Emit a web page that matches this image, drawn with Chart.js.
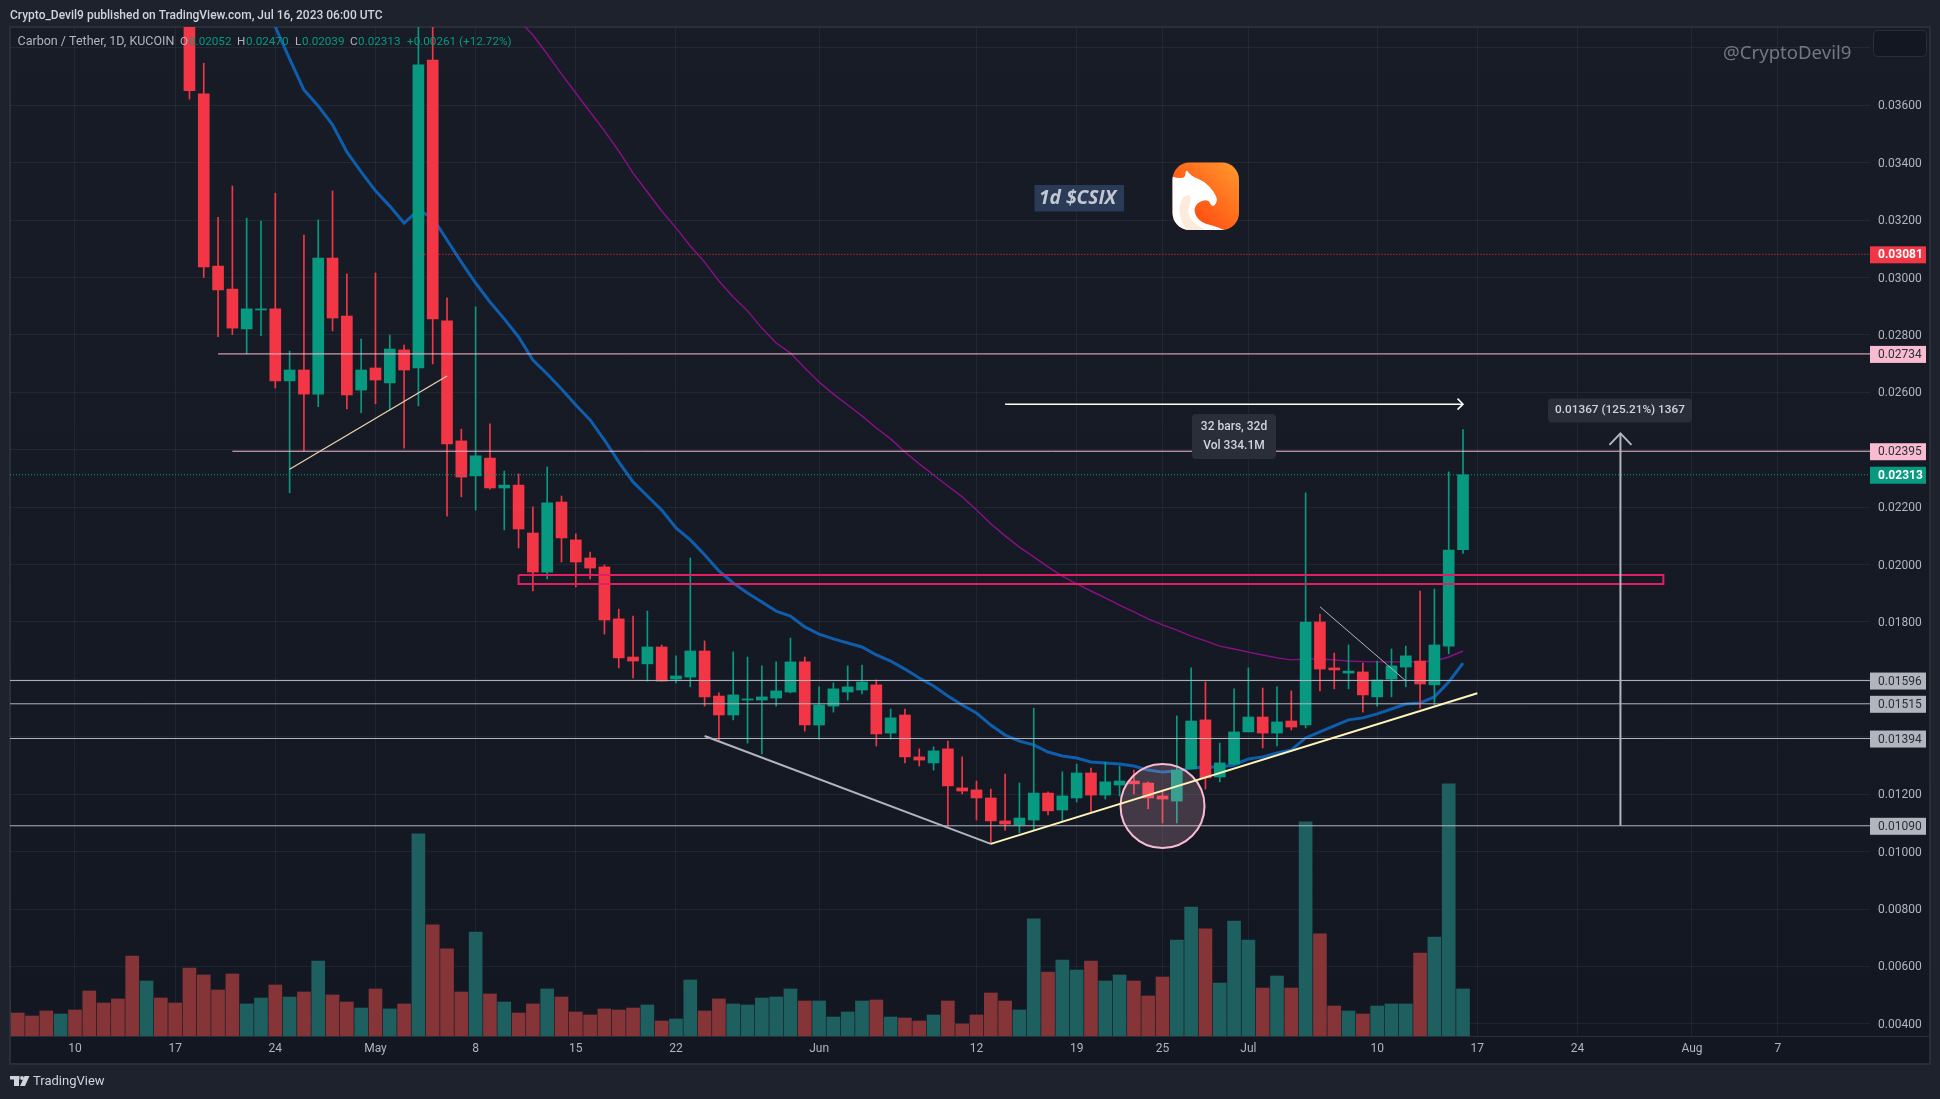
<!DOCTYPE html>
<html>
<head>
<meta charset="utf-8">
<title>CSIX / USDT</title>
<script src="https://cdn.jsdelivr.net/npm/chart.js@4"></script>
<style>
html, body { margin: 0; padding: 0; background: #1e222d; }
canvas { display: block; }
</style>
</head>
<body>
<canvas id="chart" width="1940" height="1099"></canvas>
<script>
// days are counted from Apr 10 2023 = 0
var firstCandleDay = 8;   // Apr 18, older candles sit above the visible range
var firstVolumeDay = -5;  // Apr 5
var firstBlueDay = 13;
var firstPurpleDay = 30;

var opens = [
  .04120,.03640,.03040,.02960,.02821,.02887,.02891,.02640,.02678,.02594,
  .03068,.02866,.02608,.02685,.02633,.02748,.02685,.03758,.02849,.02431,
  .02309,.02371,.02267,.02277,.02110,.01974,.02218,.02086,.02023,.01992,
  .01811,.01678,.01654,.01713,.01601,.01608,.01699,.01542,.01476,.01528,
  .01528,.01535,.01556,.01661,.01441,.01507,.01556,.01563,.01581,.01413,
  .01476,.01330,.01309,.01358,.01222,.01215,.01187,.01107,.01093,.01110,
  .01204,.01145,.01187,.01274,.01197,.01232,.01246,.01239,.01194,.01176,
  .01288,.01459,.01260,.01305,.01417,.01469,.01413,.01455,.01441,.01800,
  .01640,.01622,.01626,.01539,.01601,.01643,.01664,.01581,.01716,.02052
];
var highs = [
  .04300,.03747,.03210,.03319,.03207,.03197,.03294,.02744,.03148,.03201,
  .03302,.03013,.02786,.03016,.02800,.02765,.04200,.04100,.02929,.02472,
  .02898,.02490,.02326,.02316,.02201,.02340,.02239,.02107,.02044,.01999,
  .01845,.01821,.01838,.01720,.01682,.02023,.01734,.01553,.01696,.01678,
  .01647,.01661,.01744,.01678,.01574,.01588,.01647,.01650,.01598,.01497,
  .01497,.01358,.01365,.01385,.01330,.01246,.01218,.01270,.01239,.01500,
  .01208,.01278,.01305,.01291,.01312,.01298,.01284,.01243,.01215,.01473,
  .01640,.01591,.01378,.01567,.01640,.01570,.01574,.01560,.02250,.01828,
  .01692,.01720,.01657,.01664,.01706,.01716,.01908,.01915,.02323,.02470
];
var lows = [
  .03622,.03000,.02794,.02801,.02734,.02798,.02615,.02250,.02396,.02550,
  .02814,.02542,.02529,.02560,.02539,.02406,.02553,.02699,.02169,.02236,
  .02190,.02263,.02121,.02058,.01908,.01950,.02009,.01922,.01950,.01758,
  .01640,.01605,.01594,.01594,.01588,.01574,.01507,.01389,.01459,.01378,
  .01340,.01507,.01553,.01420,.01392,.01486,.01528,.01549,.01368,.01392,
  .01309,.01298,.01284,.01089,.01201,.01110,.01027,.01075,.01065,.01075,
  .01128,.01107,.01173,.01138,.01183,.01194,.01201,.01149,.01100,.01100,
  .01288,.01218,.01243,.01305,.01417,.01361,.01368,.01424,.01431,.01560,
  .01567,.01567,.01486,.01507,.01539,.01574,.01500,.01511,.01689,.02039
];
var closes = [
  .03651,.03037,.02957,.02824,.02891,.02891,.02640,.02678,.02594,.03068,
  .02859,.02591,.02678,.02643,.02751,.02678,.03741,.02856,.02420,.02305,
  .02379,.02267,.02277,.02124,.01974,.02215,.02093,.02009,.01988,.01807,
  .01675,.01664,.01713,.01594,.01612,.01699,.01539,.01476,.01546,.01532,
  .01539,.01560,.01661,.01441,.01511,.01567,.01574,.01591,.01410,.01466,
  .01330,.01319,.01351,.01229,.01211,.01187,.01107,.01096,.01117,.01204,
  .01142,.01194,.01274,.01197,.01243,.01246,.01236,.01187,.01183,.01284,
  .01455,.01257,.01309,.01417,.01469,.01413,.01452,.01434,.01800,.01636,
  .01633,.01629,.01546,.01598,.01647,.01682,.01584,.01720,.02051,.02313
];

// volume in millions, u = up day, d = down day
var volumes = [
  4.69,3.17,2.76,3.45,3.04,3.59,6.21,4.55,5.11,11.04,
  7.59,5.24,4.55,9.38,8.42,6.35,8.56,4.42,5.24,7.04,
  5.38,6.07,10.35,5.66,4.69,3.86,6.49,3.73,4.42,27.88,
  15.32,12.01,6.07,14.35,5.80,4.69,3.17,4.42,6.49,5.38,
  3.31,2.90,3.73,3.59,3.86,4.28,2.07,2.35,7.73,3.45,
  5.11,4.42,4.28,5.24,5.38,6.49,4.83,4.83,2.62,3.31,
  4.83,4.97,2.62,2.48,2.07,2.90,4.83,1.66,2.90,5.93,
  4.83,3.59,16.15,8.83,10.49,9.11,10.35,7.59,8.42,7.59,
  5.52,8.14,13.25,17.80,14.77,7.31,15.87,13.25,6.62,8.28,
  6.62,29.53,14.08,4.14,3.45,3.04,4.14,4.42,4.42,11.45,
  13.66,34.78,6.49
];
var volumeDirs = [
  'u','d','d','d','u','d','d','d','d','d',
  'u','d','d','d','d','d','d','u','u','d',
  'u','d','u','d','d','u','d','u','d','u',
  'd','d','d','u','d','u','d','d','u','d',
  'd','d','d','d','d','u','d','u','u','d',
  'd','u','u','u','u','u','d','u','u','u',
  'u','d','u','d','d','u','d','d','d','d',
  'd','u','u','d','u','u','d','u','u','d',
  'd','d','u','u','d','u','u','u','d','u',
  'd','u','d','d','u','d','u','u','u','d',
  'u','u','u'
];

var bluePrices = [
  .04037,.03873,.03762,.03654,.03598,.03532,.03438,.03368,.03302,.03249,
  .03190,.03235,.03208,.03131,.03054,.02981,.02915,.02856,.02793,.02713,
  .02664,.02612,.02556,.02504,.02434,.02358,.02288,.02239,.02190,.02128,
  .02086,.02034,.01978,.01936,.01901,.01870,.01838,.01821,.01783,.01758,
  .01741,.01727,.01713,.01685,.01664,.01636,.01605,.01577,.01542,.01511,
  .01483,.01441,.01406,.01385,.01372,.01347,.01333,.01326,.01312,.01309,
  .01305,.01298,.01284,.01277,.01281,.01291,.01295,.01295,.01302,.01323,
  .01330,.01344,.01354,.01396,.01417,.01438,.01459,.01466,.01480,.01497,
  .01514,.01518,.01539,.01591,.01657
];
var purplePrices = [
  .03985,.03897,.03845,.03779,.03709,.03643,.03577,.03511,.03441,.03364,
  .03298,.03232,.03173,.03110,.03054,.02988,.02932,.02884,.02824,.02772,
  .02737,.02685,.02636,.02594,.02556,.02518,.02476,.02438,.02392,.02351,
  .02312,.02274,.02236,.02190,.02142,.02100,.02061,.02027,.01992,.01960,
  .01933,.01908,.01884,.01859,.01835,.01811,.01790,.01772,.01751,.01734,
  .01716,.01706,.01695,.01685,.01675,.01668,.01671,.01671,.01668,.01664,
  .01662,.01661,.01661,.01661,.01661,.01664,.01678,.01699
];

var tickDays = [0,7,14,21,28,35,42,52,63,70,76,82,91,98,105,113,119];
var tickLabels = ["10","17","24","May","8","15","22","Jun","12","19","25","Jul","10","17","24","Aug","7"];
var priceTicks = [.004,.006,.008,.010,.012,.014,.016,.018,.020,.022,.024,.026,.028,.030,.032,.034,.036,.038];
var hiddenPriceTicks = [.014,.016,.024,.038];

var dayMin = -4.54, dayMax = 125.44;
var priceMin = .003576, priceMax = .03873;
var volumeMax = 139.2;

var levelPink = [.02734,.02395];
var levelPinkStart = [10,11];
var levelGrey = [.01596,.01515,.01394,.01090];
var highLevel = .03081, highLevelStart = 24;
var lastPrice = .02313;

var tanDays = [15,26], tanPrices = [.02332,.02657];
var greyDays = [44,64], greyPrices = [.01403,.01027];
var yellowDays = [64,98], yellowPrices = [.01027,.01552];
var shortDays = [87,93], shortPrices = [.01853,.01595];
var zoneDays = [31,111,111,31,31], zonePrices = [.01964,.01964,.01932,.01932,.01964];
var rangeDays = [65,97], rangePrice = .02559;
var riseDay = 108, risePrices = [.01090,.02457];
var circleDay = 76, circlePrice = .01159;

function candleColor(i) { return closes[i] >= opens[i] ? '#089981' : '#f23645'; }

function line(days, prices, color, width, order, dash) {
  return {
    type: 'line',
    data: days.map(function(d, i) { return { x: d, y: prices[i] }; }),
    borderColor: color,
    borderWidth: width,
    borderDash: dash || [],
    pointRadius: 0,
    tension: 0,
    yAxisID: 'y',
    order: order
  };
}

function dayList(first, values) {
  return values.map(function(v, i) { return first + i; });
}

var datasets = [];

datasets.push({
  type: 'bar',
  data: volumes.map(function(v, i) { return { x: firstVolumeDay + i, y: v }; }),
  backgroundColor: volumeDirs.map(function(d) { return d === 'u' ? '#1e6060' : '#853538'; }),
  barThickness: 13,
  yAxisID: 'yVol',
  order: 60
});
datasets.push(line(dayList(firstPurpleDay, purplePrices), purplePrices, '#8a0f87', 1.4, 50));
datasets.push(line(dayList(firstBlueDay, bluePrices), bluePrices, '#0f5ead', 3, 49));
datasets.push({
  type: 'bar',
  data: highs.map(function(v, i) { return { x: firstCandleDay + i, y: [lows[i], highs[i]] }; }),
  backgroundColor: opens.map(function(v, i) { return candleColor(i); }),
  barThickness: 1,
  yAxisID: 'y',
  order: 40
});
datasets.push({
  type: 'bar',
  data: opens.map(function(v, i) { return { x: firstCandleDay + i, y: [opens[i], closes[i]] }; }),
  backgroundColor: opens.map(function(v, i) { return candleColor(i); }),
  barThickness: 11,
  minBarLength: 1,
  yAxisID: 'y',
  order: 39
});

// price level drawings
levelGrey.forEach(function(p) {
  datasets.push(line([dayMin, dayMax], [p, p], '#b2b5be', 1, 20));
});
levelPink.forEach(function(p, i) {
  datasets.push(line([levelPinkStart[i], dayMax], [p, p], '#f8bbd0', 1, 20));
});
datasets.push(line([dayMin, dayMax], [lastPrice, lastPrice], '#089981', 1, 21, [1, 2]));
datasets.push(line([highLevelStart, dayMax], [highLevel, highLevel], '#f23645', 1, 21, [1, 2]));

// hand drawn lines
datasets.push(line(zoneDays, zonePrices, '#e01e63', 2, 19));
datasets.push(line(tanDays, tanPrices, '#e8d3b0', 1.3, 18));
datasets.push(line(shortDays, shortPrices, '#b2b5be', 1, 18));
datasets.push(line(greyDays, greyPrices, '#b2b5be', 2, 18));
datasets.push({
  type: 'line',
  data: [{ x: circleDay, y: circlePrice }],
  showLine: false,
  pointRadius: 42,
  pointHoverRadius: 42,
  pointBackgroundColor: 'rgba(248,187,208,0.2)',
  pointBorderColor: '#f8bbd0',
  pointBorderWidth: 2,
  yAxisID: 'y',
  order: 17
});
datasets.push(line(yellowDays, yellowPrices, '#fff5b8', 2, 16));
datasets.push(line(rangeDays, [rangePrice, rangePrice], '#ffffff', 1.5, 15));
datasets.push(line([riseDay, riseDay], risePrices, '#b2b5be', 2, 15));

var font = 'Roboto, sans-serif';

function roundBox(ctx, x, y, w, h, r, fill, stroke) {
  ctx.beginPath();
  ctx.roundRect(x, y, w, h, r);
  if (fill) { ctx.fillStyle = fill; ctx.fill(); }
  if (stroke) { ctx.strokeStyle = stroke; ctx.lineWidth = 1; ctx.stroke(); }
}

function text(ctx, str, x, y, color, fontStr, align) {
  ctx.fillStyle = color;
  ctx.font = fontStr;
  ctx.textAlign = align || 'left';
  ctx.textBaseline = 'middle';
  ctx.fillText(str, x, y);
}

var framePlugin = {
  id: 'frame',
  beforeDraw: function(chart) {
    var ctx = chart.ctx;
    ctx.save();
    ctx.fillStyle = '#1e222d';
    ctx.fillRect(0, 0, 1940, 1099);
    var g = ctx.createLinearGradient(0, 27, 0, 1064);
    g.addColorStop(0, '#181c27');
    g.addColorStop(1, '#131722');
    ctx.fillStyle = g;
    ctx.fillRect(10, 27, 1920, 1037);
    ctx.strokeStyle = '#2a2e39';
    ctx.lineWidth = 2;
    ctx.strokeRect(10, 27, 1920, 1037);
    ctx.lineWidth = 1;
    ctx.beginPath();
    ctx.moveTo(10, 1036.5);
    ctx.lineTo(1930, 1036.5);
    ctx.stroke();
    ctx.restore();
  }
};

function chevron(ctx, points, color, width) {
  ctx.strokeStyle = color;
  ctx.lineWidth = width;
  ctx.beginPath();
  ctx.moveTo(points[0][0], points[0][1]);
  ctx.lineTo(points[1][0], points[1][1]);
  ctx.lineTo(points[2][0], points[2][1]);
  ctx.stroke();
}

// rounded outline through the midpoints of a rough polygon
function smoothShape(ctx, pts, color) {
  var sx = function(v) { return 990 + v / 3; }, sy = function(v) { return 140 + v / 3; };
  ctx.fillStyle = color;
  ctx.beginPath();
  pts.forEach(function(p, i) {
    var next = pts[(i + 1) % pts.length];
    var mx = sx((p[0] + next[0]) / 2), my = sy((p[1] + next[1]) / 2);
    if (i === 0) ctx.moveTo(mx, my);
    else ctx.quadraticCurveTo(sx(p[0]), sy(p[1]), mx, my);
  });
  ctx.quadraticCurveTo(sx(pts[0][0]), sy(pts[0][1]), sx((pts[0][0] + pts[1][0]) / 2), sy((pts[0][1] + pts[1][1]) / 2));
  ctx.closePath();
  ctx.fill();
}

function drawLogo(ctx) {
  ctx.save();
  ctx.beginPath();
  ctx.roundRect(1172.5, 162.5, 66.5, 67.5, 17);
  ctx.clip();
  var g = ctx.createLinearGradient(1172, 230, 1239, 163);
  g.addColorStop(0, '#ff3508');
  g.addColorStop(1, '#ff9a2e');
  ctx.fillStyle = g;
  ctx.fillRect(1172, 162, 68, 69);
  smoothShape(ctx, [[500,95],[585,122],[587,85],[603,108],[645,125],[672,155],[684,182],[668,204],[655,178],[622,186],[610,215],[632,248],[690,262],[760,300],[500,300]], '#ffffff');
  smoothShape(ctx, [[572,178],[598,160],[604,182],[590,215],[610,250],[660,278],[590,278],[566,225]], '#fdeadb');
  ctx.restore();
}

function drawTvMark(ctx) {
  ctx.fillStyle = '#d1d4dc';
  ctx.fillRect(10, 1076, 9.5, 3.5);
  ctx.fillRect(14, 1076, 5, 10);
  ctx.beginPath();
  ctx.arc(22, 1078, 1.9, 0, Math.PI * 2);
  ctx.fill();
  ctx.beginPath();
  ctx.moveTo(24.5, 1076);
  ctx.lineTo(29.5, 1076);
  ctx.lineTo(25, 1086);
  ctx.lineTo(20, 1086);
  ctx.closePath();
  ctx.fill();
}

var overlayPlugin = {
  id: 'overlay',
  afterDraw: function(chart) {
    var ctx = chart.ctx, xs = chart.scales.x, ys = chart.scales.y;
    ctx.save();

    // header and footer
    text(ctx, 'Crypto_Devil9 published on TradingView.com, Jul 16, 2023 06:00 UTC', 10, 15.5, '#d1d4dc', '500 12px ' + font);
    drawTvMark(ctx);
    text(ctx, 'TradingView', 33, 1081.5, '#d1d4dc', '13px ' + font);

    // legend
    var titleFont = '12.5px ' + font, legendFont = '11.7px ' + font, green = '#089981', grey = '#b2b5be';
    text(ctx, 'Carbon / Tether, 1D, KUCOIN', 17.5, 42, grey, titleFont);
    text(ctx, 'O', 180, 42, grey, legendFont);
    text(ctx, '0.02052', 189, 42, green, legendFont);
    text(ctx, 'H', 237, 42, grey, legendFont);
    text(ctx, '0.02470', 246, 42, green, legendFont);
    text(ctx, 'L', 295, 42, grey, legendFont);
    text(ctx, '0.02039', 302, 42, green, legendFont);
    text(ctx, 'C', 350, 42, grey, legendFont);
    text(ctx, '0.02313', 358, 42, green, legendFont);
    text(ctx, '+0.00261 (+12.72%)', 407, 42, green, legendFont);

    // watermark and empty corner box
    text(ctx, '@CryptoDevil9', 1723, 54, '#74777f', '18.6px "Noto Sans", sans-serif');
    roundBox(ctx, 1873.5, 30.5, 53, 26, 4, '#131722', '#2a2e39');

    // title tag and logo
    ctx.fillStyle = '#2a3b57';
    ctx.fillRect(1034.5, 185, 89.5, 26.5);
    text(ctx, '1d $CSIX', 1039, 198.5, '#c3c8d2', 'italic bold 19.2px "Open Sans", sans-serif');
    drawLogo(ctx);

    // arrow heads
    var rangeX = xs.getPixelForValue(rangeDays[1]), rangeY = ys.getPixelForValue(rangePrice);
    chevron(ctx, [[rangeX - 5.5, rangeY - 5.5], [rangeX, rangeY], [rangeX - 5.5, rangeY + 5.5]], '#ffffff', 1.5);
    var riseX = xs.getPixelForValue(riseDay), riseY = ys.getPixelForValue(risePrices[1]);
    chevron(ctx, [[riseX - 11, riseY + 11.5], [riseX, riseY], [riseX + 11, riseY + 11.5]], '#b2b5be', 2);

    // measure tooltips
    roundBox(ctx, 1192, 414, 84, 45, 4, '#2a2e39');
    text(ctx, '32 bars, 32d', 1234, 426.5, '#d1d4dc', '500 12px ' + font, 'center');
    text(ctx, 'Vol 334.1M', 1234, 446, '#d1d4dc', '500 12px ' + font, 'center');
    roundBox(ctx, 1548, 398.5, 144, 24, 4, '#2a2e39');
    text(ctx, '0.01367 (125.21%) 1367', 1620, 410.5, '#d1d4dc', '500 11.8px ' + font, 'center');

    // right axis price tags
    function tag(price, bg, color, weight) {
      var y = ys.getPixelForValue(price);
      ctx.fillStyle = bg;
      ctx.fillRect(1870, y - 8, 56, 17);
      text(ctx, price.toFixed(5), 1878, y + 1, color, weight + ' 12px ' + font);
    }
    levelPink.forEach(function(p) { tag(p, '#f8bbd0', '#2a2e39', '400'); });
    levelGrey.forEach(function(p) { tag(p, '#b2b5be', '#2a2e39', '400'); });
    tag(highLevel, '#f23645', '#ffffff', '700');
    tag(lastPrice, '#089981', '#ffffff', '700');

    ctx.restore();
  }
};

var gridColor = 'rgba(240,243,250,0.06)';

// no room kept for half a tick label at the ends
function noAxisPadding(axis) {
  axis.paddingLeft = 0;
  axis.paddingRight = 0;
  axis.paddingTop = 0;
  axis.paddingBottom = 0;
}

new Chart(document.getElementById('chart').getContext('2d'), {
  data: { datasets: datasets },
  plugins: [framePlugin, overlayPlugin],
  options: {
    responsive: false,
    animation: false,
    devicePixelRatio: 1,
    // autoPadding off: the big circle point would otherwise push the plot area in
    layout: { autoPadding: false, padding: { left: 10, top: 27, right: 10, bottom: 35 } },
    datasets: { bar: { grouped: false } },
    plugins: { legend: { display: false }, tooltip: { enabled: false } },
    events: [],
    scales: {
      x: {
        type: 'linear',
        min: dayMin,
        max: dayMax,
        offset: false,
        afterBuildTicks: function(axis) {
          axis.ticks = tickDays.map(function(d) { return { value: d }; });
        },
        afterFit: function(axis) { axis.height = 28; noAxisPadding(axis); },
        grid: { color: gridColor, drawTicks: false, offset: false },
        border: { display: false },
        ticks: {
          autoSkip: false,
          maxRotation: 0,
          padding: 6,
          color: '#b2b5be',
          font: { family: 'Roboto', size: 12 },
          callback: function(v, i) { return tickLabels[i]; }
        }
      },
      y: {
        type: 'linear',
        position: 'right',
        min: priceMin,
        max: priceMax,
        afterBuildTicks: function(axis) {
          axis.ticks = priceTicks.map(function(p) { return { value: p }; });
        },
        afterFit: function(axis) { axis.width = 60; noAxisPadding(axis); },
        grid: { color: gridColor, drawTicks: false },
        border: { display: false },
        ticks: {
          padding: 8,
          labelOffset: 1,
          color: '#b2b5be',
          font: { family: 'Roboto', size: 12 },
          callback: function(v) {
            return hiddenPriceTicks.indexOf(v) >= 0 ? '' : v.toFixed(5);
          }
        }
      },
      yVol: {
        type: 'linear',
        display: false,
        min: 0,
        max: volumeMax
      }
    }
  }
});
</script>
</body>
</html>
